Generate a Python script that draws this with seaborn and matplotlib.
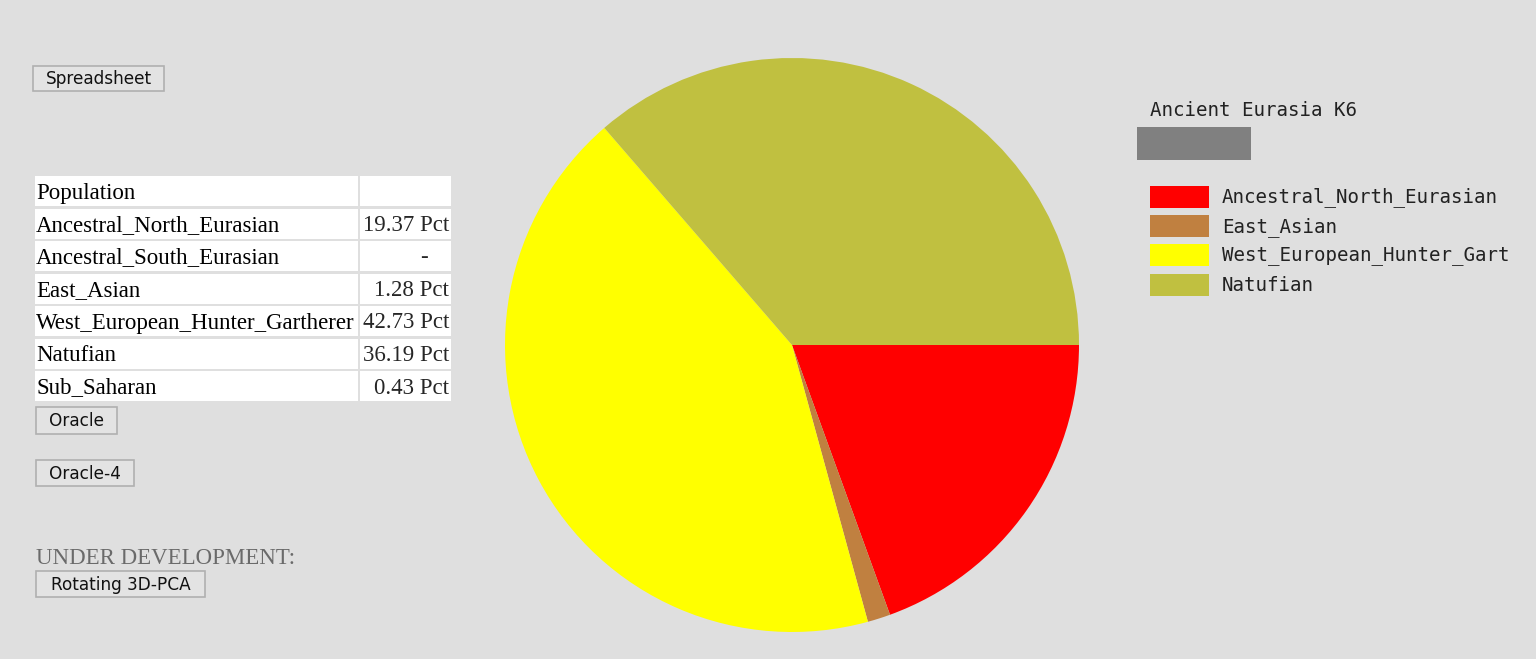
import numpy as np
import pandas as pd
import seaborn as sns
import matplotlib.pyplot as plt
from matplotlib.patches import Rectangle

# table data (as shown on the page)
populations = ["Ancestral_North_Eurasian", "Ancestral_South_Eurasian", "East_Asian",
               "West_European_Hunter_Gartherer", "Natufian", "Sub_Saharan"]
pct_values = [19.37, None, 1.28, 42.73, 36.19, 0.43]

# pie data
pie_labels = ["Ancestral_North_Eurasian", "East_Asian", "West_European_Hunter_Gart", "Natufian"]
pie_values = [19.37, 1.28, 42.73, 36.19]
pie_colors = ["#ff0000", "#c08040", "#ffff00", "#c0c040"]

chart_title = "Ancient Eurasia K6"
buttons = ["Spreadsheet", "Oracle", "Oracle-4", "Rotating 3D-PCA"]
dev_note = "UNDER DEVELOPMENT:"

BG = "#dfdfdf"
sns.set_theme(style="white", rc={"figure.facecolor": BG, "axes.facecolor": BG})

W, H = 1536, 659
fig = plt.figure(figsize=(W / 100, H / 100), dpi=100)

# page overlay in pixel coords
page = fig.add_axes([0, 0, 1, 1])
page.set_xlim(0, W)
page.set_ylim(H, 0)
page.axis("off")

serif = "Liberation Serif"
sans = "DejaVu Sans"
mono = "DejaVu Sans Mono"


def button(x0, y0, x1, y1, label):
    page.add_patch(Rectangle((x0, y0), x1 - x0, y1 - y0, facecolor="#e3e3e3",
                             edgecolor="#b0b0b0", lw=1.2))
    page.text((x0 + x1) / 2, (y0 + y1) / 2 + 1, label, ha="center", va="center",
              fontsize=12.2, family=sans, color="#111111")


button(33, 66, 164, 91, buttons[0])
button(36, 407, 117, 434, buttons[1])
button(36, 460, 134, 486, buttons[2])
button(36, 571, 205, 597, buttons[3])
page.text(36, 558, dev_note, ha="left", va="center", fontsize=16.5, family=serif,
          color="#6a6a6a")

# table
tab = pd.DataFrame({"pop": populations, "pct": pct_values})
row_h = 32.5
top = 176
x_left, x_mid, x_right = 35, 358, 451
rows = [("Population", "")] + [
    (p, "-" if v is None or pd.isna(v) else f"{v:.2f} Pct") for p, v in zip(tab["pop"], tab["pct"])
]
for i, (name, val) in enumerate(rows):
    y0 = top + i * row_h
    page.add_patch(Rectangle((x_left, y0), x_mid - x_left, row_h - 2.5,
                             facecolor="white", edgecolor="none"))
    page.add_patch(Rectangle((x_mid + 2, y0), x_right - x_mid - 2, row_h - 2.5,
                             facecolor="white", edgecolor="none"))
    yc = y0 + (row_h - 2.5) / 2 + 2
    page.text(36, yc, name, ha="left", va="center", fontsize=16.5, family=serif, color="black")
    if val == "-":
        page.text(424, yc, val, ha="center", va="center", fontsize=16.5, family=serif)
    elif val:
        page.text(449, yc, val, ha="right", va="center", fontsize=16.5, family=serif)

# pie
cx, cy, r = 792, 345, 287
ax = fig.add_axes([(cx - r) / W, (H - cy - r) / H, 2 * r / W, 2 * r / H])
ax.pie(pie_values, colors=pie_colors, startangle=0, counterclock=False,
       wedgeprops={"linewidth": 0})
ax.set_xlim(-1, 1)
ax.set_ylim(-1, 1)
ax.set_aspect("equal")
ax.axis("off")

# legend
page.text(1150, 111, chart_title, ha="left", va="center", fontsize=13.8, family=mono,
          color="#222222")
page.add_patch(Rectangle((1137, 127), 114, 33, facecolor="#808080", edgecolor="none"))
for i, (lab, col) in enumerate(zip(pie_labels, pie_colors)):
    y0 = 186 + i * 29.2
    page.add_patch(Rectangle((1150, y0), 59, 22, facecolor=col, edgecolor="none"))
    page.text(1222, y0 + 11.5, lab, ha="left", va="center", fontsize=13.8, family=mono,
              color="#222222")

fig.savefig("out.png", dpi=100, facecolor=BG)
